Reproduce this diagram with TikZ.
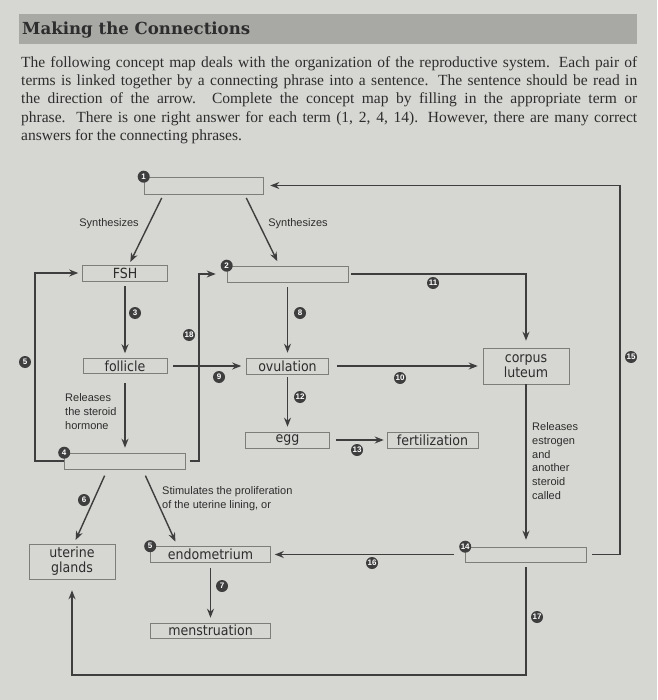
\documentclass[tikz,border=0pt]{standalone}
\usepackage{fontspec}
\setmainfont{Liberation Serif}
\newfontfamily\termfont{DejaVu Sans Condensed}
\newfontfamily\labelfont{Liberation Sans}
\newfontfamily\titlefont{DejaVu Serif}
\usetikzlibrary{arrows.meta}
\definecolor{paper}{RGB}{214,214,210}
\definecolor{bar}{RGB}{168,168,165}
\definecolor{ink}{RGB}{45,45,45}
\definecolor{wire}{RGB}{62,62,62}
\definecolor{boxline}{RGB}{125,125,122}

\begin{document}
\begin{tikzpicture}[x=1pt,y=-1pt,
        term/.style={draw=boxline, line width=0.6pt, inner sep=0pt, text=ink, align=center,
            font=\termfont\fontsize{14}{15}\selectfont},
        lab/.style={font=\labelfont\fontsize{11}{13.8}\selectfont, text=ink, align=left, inner sep=0pt},
        num/.style={circle, fill=wire, text=white, inner sep=0pt, minimum size=12pt,
            font=\labelfont\bfseries\fontsize{8}{8}\selectfont},
        link/.style={draw=wire, line width=1.4pt},
        arr/.style={link, -{Stealth[length=9pt,width=7pt]}}]

        \useasboundingbox (0,0) rectangle (657,700);
        \fill[paper] (0,0) rectangle (657,700);

        % heading and text
        \fill[bar] (19,14) rectangle (637,44);
        \node[anchor=base west, inner sep=0pt, text=ink, font=\titlefont\bfseries\fontsize{16.6}{18}\selectfont] (title) at (22,35) {Making the Connections};
        \node[anchor=north west, inner sep=0pt, text width=616pt, align=justify, text=ink, font=\fontsize{15.5}{18.3}\selectfont] (intro) at (21,56) {The following concept map deals with the organization of the reproductive system. Each pair of\linebreak
            terms is linked together by a connecting phrase into a sentence. The sentence should be read in\linebreak
            the direction of the arrow. Complete the concept map by filling in the appropriate term or\linebreak
            phrase.\ \ There is one right answer for each term (1, 2, 4, 14). However, there are many correct\linebreak
            answers for the connecting phrases.};

        % terms
        \node[term, minimum width=119pt, minimum height=17pt] (b1) at (203.5,185.5) {};
        \node[term, minimum width=85pt, minimum height=16pt] (fsh) at (125,273) {FSH};
        \node[term, minimum width=121pt, minimum height=16pt] (b2) at (287.5,274) {};
        \node[term, minimum width=84pt, minimum height=15pt] (foll) at (125,366) {follicle};
        \node[term, minimum width=82pt, minimum height=16pt] (ovul) at (287.5,366) {ovulation};
        \node[term, minimum width=84pt, minimum height=16pt] (egg) at (287.5,440) {egg};
        \node[term, minimum width=91pt, minimum height=16pt] (fert) at (432.5,440) {fertilization};
        \node[term, minimum width=86pt, minimum height=36pt] (corpus) at (526,366) {corpus\\luteum};
        \node[term, minimum width=121pt, minimum height=16pt] (b4) at (125,461) {};
        \node[term, minimum width=86pt, minimum height=35pt] (uter) at (72,561.5) {uterine\\glands};
        \node[term, minimum width=120pt, minimum height=16pt] (endo) at (210.5,554.5) {endometrium};
        \node[term, minimum width=120pt, minimum height=15pt] (menst) at (210.5,630.5) {menstruation};
        \node[term, minimum width=121pt, minimum height=15pt] (b14) at (526,554.5) {};

        \coordinate (c5) at (35,461);
        \coordinate (c18) at (199,461);
        \coordinate (c15) at (620,554.5);
        \coordinate (c17) at (526,675);

        % connections
        \draw[arr, shorten <=4pt, shorten >=3pt] ([xshift=-40pt]b1.south) -- ([xshift=4pt]fsh.north);
        \draw[arr, shorten <=4pt, shorten >=5pt] ([xshift=41pt]b1.south) -- ([xshift=-8pt]b2.north);
        \draw[arr, shorten <=5pt, shorten >=5pt] (fsh.south) -- (foll.north);
        \draw[arr, shorten <=5pt, shorten >=5pt] (b2.south) -- (ovul.north);
        \draw[arr, shorten <=4pt, shorten >=11pt] (b4.east) -- (c18) |- (b2.west);
        \draw[arr, shorten <=6pt, shorten >=5pt] (foll.east) -- (ovul.west);
        \draw[arr, shorten <=9pt, shorten >=5pt] (foll.south) -- (b4.north);
        \draw[arr, shorten >=4pt] (b4.west) -- (c5) |- (fsh.west);
        \draw[arr, shorten <=3pt, shorten >=5pt] (ovul.south) -- (egg.north);
        \draw[arr, shorten <=6pt, shorten >=3pt] (egg.east) -- (fert.west);
        \draw[arr, shorten <=3pt, shorten >=7pt] (b2.east) -| (corpus.north);
        \draw[arr, shorten <=8pt, shorten >=5pt] (ovul.east) -- (corpus.west);
        \draw[arr, shorten >=7pt] (corpus.south) -- (b14.north);
        \draw[arr, shorten <=5pt, shorten >=7pt] (b14.east) -- (c15) |- (b1.east);
        \draw[arr, shorten <=11pt, shorten >=4pt] (b14.west) -- (endo.east);
        \draw[arr, shorten <=5pt, shorten >=11pt] (b14.south) -- (c17) -| (uter.south);
        \draw[arr, shorten <=7pt, shorten >=4pt] ([xshift=-17.5pt]b4.south) -- ([xshift=2pt]uter.north);
        \draw[arr, shorten <=7pt, shorten >=5pt] ([xshift=17.5pt]b4.south) -- ([xshift=-33pt]endo.north);
        \draw[arr, shorten <=5pt, shorten >=5pt] (endo.south) -- (menst.north);

        % phrases
        \node[lab] (synl) at (109,224) {Synthesizes};
        \node[lab] (synr) at (298,224) {Synthesizes};
        \node[lab, anchor=west] (relsteroid) at (65,411.5) {Releases\\the steroid\\hormone};
        \node[lab, anchor=west] (relestrogen) at (532,461) {Releases\\estrogen\\and\\another\\steroid\\called};
        \node[lab, anchor=west] (stim) at (162,498.5) {Stimulates the proliferation\\of the uterine lining, or};

        % numbers
        \node[num] (n1) at (b1.north west) {1};
        \node[num] (n2) at (b2.north west) {2};
        \node[num] (n3) at (135,313) {3};
        \node[num] (n4) at (b4.north west) {4};
        \node[num] (n5) at (25,362) {5};
        \node[num] (n5b) at (endo.north west) {5};
        \node[num] (n6) at (84,500) {6};
        \node[num] (n7) at (222,586) {7};
        \node[num] (n8) at (300,313) {8};
        \node[num] (n9) at (219,377) {9};
        \node[num] (n10) at (400,378) {10};
        \node[num] (n11) at (433,283) {11};
        \node[num] (n12) at (300,397) {12};
        \node[num] (n13) at (357,450) {13};
        \node[num] (n14) at (b14.north west) {14};
        \node[num] (n15) at (631,357) {15};
        \node[num] (n16) at (372,563) {16};
        \node[num] (n17) at (537,617) {17};
        \node[num] (n18) at (189,335) {18};
    \end{tikzpicture}
\end{document}
